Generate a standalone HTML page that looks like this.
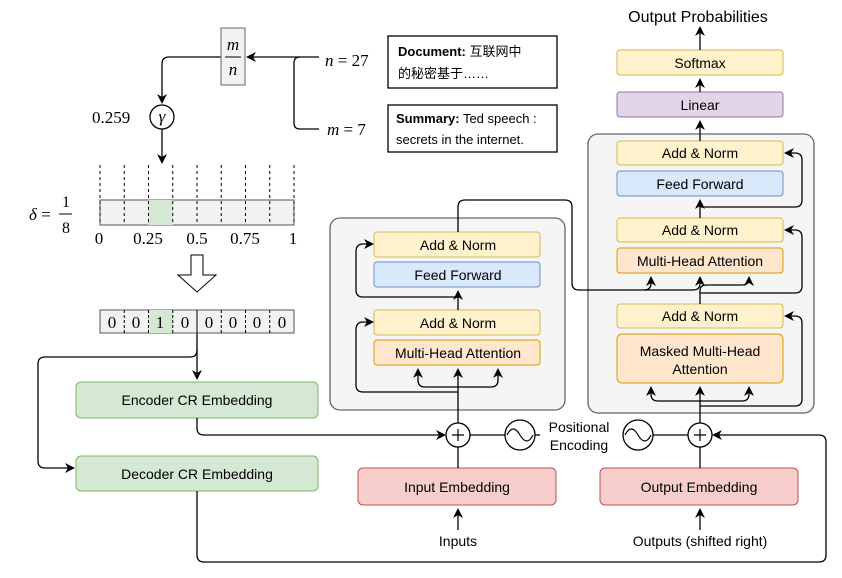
<!DOCTYPE html>
<html><head><meta charset="utf-8"><style>
html,body{margin:0;padding:0;background:#fff;}
svg{display:block;font-family:"Liberation Sans","Noto Sans CJK SC",sans-serif;}
.m{font-family:"Liberation Serif","DejaVu Serif",serif;}
</style></head><body>
<svg width="842" height="578" viewBox="0 0 842 578" xmlns="http://www.w3.org/2000/svg">
<defs>
<marker id="a" markerWidth="10" markerHeight="10" refX="8" refY="5" orient="auto" markerUnits="userSpaceOnUse">
<path d="M0,0 L10,5 L0,10 L3,5 Z" fill="#000"/></marker>
</defs>
<g fill="none" stroke="#000" stroke-width="1.3">
<rect x="330" y="218" width="235" height="192" rx="10" fill="#f5f5f5" stroke="#666"/>
<rect x="588" y="134" width="226" height="279" rx="10" fill="#f5f5f5" stroke="#666"/>
</g>
<g stroke-width="1">
<rect x="374" y="232" width="166" height="25" rx="3" fill="#fff2cc" stroke="#d6b656"/>
<rect x="374" y="262" width="166" height="25" rx="3" fill="#dae8fc" stroke="#6c8ebf"/>
<rect x="374" y="310" width="166" height="25" rx="3" fill="#fff2cc" stroke="#d6b656"/>
<rect x="374" y="340" width="166" height="25" rx="3" fill="#ffe6cc" stroke="#d79b00"/>
<rect x="617" y="141" width="166" height="24" rx="3" fill="#fff2cc" stroke="#d6b656"/>
<rect x="617" y="171" width="166" height="25" rx="3" fill="#dae8fc" stroke="#6c8ebf"/>
<rect x="617" y="218" width="166" height="24" rx="3" fill="#fff2cc" stroke="#d6b656"/>
<rect x="617" y="248" width="166" height="25" rx="3" fill="#ffe6cc" stroke="#d79b00"/>
<rect x="617" y="304" width="166" height="24" rx="3" fill="#fff2cc" stroke="#d6b656"/>
<rect x="617" y="334" width="166" height="49" rx="5" fill="#ffe6cc" stroke="#d79b00"/>
<rect x="617" y="92" width="166" height="25" rx="3" fill="#e1d5e7" stroke="#9673a6"/>
<rect x="617" y="50" width="166" height="25" rx="3" fill="#fff2cc" stroke="#d6b656"/>
<rect x="358" y="468" width="198" height="37" rx="5" fill="#f8cecc" stroke="#b85450"/>
<rect x="600" y="468" width="198" height="37" rx="5" fill="#f8cecc" stroke="#b85450"/>
<rect x="76" y="382" width="242" height="36" rx="5" fill="#d5e8d4" stroke="#82b366"/>
<rect x="76" y="456" width="242" height="35" rx="5" fill="#d5e8d4" stroke="#82b366"/>
</g>
<g fill="none" stroke="#000" stroke-width="1.3">
<path d="M458 468 V447"/>
<path d="M458 423 V370" marker-end="url(#a)"/>
<path d="M458 387 H425 Q418 387 418 380 V370" marker-end="url(#a)"/>
<path d="M458 387 H491 Q498 387 498 380 V370" marker-end="url(#a)"/>
<path d="M458 392 H363 Q356 392 356 385 V330 Q356 322 363 322 H372" marker-end="url(#a)"/>
<path d="M458 310 V292" marker-end="url(#a)"/>
<path d="M458 297 H363 Q356 297 356 290 V252 Q356 244 363 244 H372" marker-end="url(#a)"/>
<path d="M458 232 V207 Q458 200 465 200 H565 Q572 200 572 207 V283 Q572 290 579 290 H644 Q651 290 651 283 V278" marker-end="url(#a)"/>
<path d="M644 290 H693 Q700 290 700 283 V278" marker-end="url(#a)"/>
<path d="M700 468 V447"/>
<path d="M700 423 V388" marker-end="url(#a)"/>
<path d="M700 401 H658 Q651 401 651 394 V388" marker-end="url(#a)"/>
<path d="M700 401 H742 Q749 401 749 394 V388" marker-end="url(#a)"/>
<path d="M700 406 H795 Q802 406 802 399 V323 Q802 316 795 316 H786" marker-end="url(#a)"/>
<path d="M700 304 V290 Q700 285 707 285 H742 Q749 285 749 278" marker-end="url(#a)"/>
<path d="M700 293 H795 Q802 293 802 286 V237 Q802 230 795 230 H786" marker-end="url(#a)"/>
<path d="M700 218 V201" marker-end="url(#a)"/>
<path d="M700 207 H795 Q802 207 802 200 V160 Q802 153 795 153 H786" marker-end="url(#a)"/>
<path d="M700 141 V122" marker-end="url(#a)"/>
<path d="M700 92 V80" marker-end="url(#a)"/>
<path d="M700 50 V28" marker-end="url(#a)"/>
<path d="M458 530 V510" marker-end="url(#a)"/>
<path d="M700 530 V510" marker-end="url(#a)"/>
<path d="M470 435 H505"/><path d="M535 435 H540"/>
<path d="M653 435 H688"/>
<path d="M197 333 V378" marker-end="url(#a)"/>
<path d="M197 350 Q197 357 190 357 H45 Q38 357 38 364 V461 Q38 468 45 468 H73" marker-end="url(#a)"/>
<path d="M197 418 V428 Q197 435 204 435 H444" marker-end="url(#a)"/>
<path d="M197 491 V555 Q197 562 204 562 H819 Q826 562 826 555 V442 Q826 435 819 435 H714" marker-end="url(#a)"/>
<path d="M319 57 H300 Q294 57 294 63 V123 Q294 129 300 129 H319"/>
<path d="M300 57 H248" marker-end="url(#a)"/>
<path d="M221 57 H169 Q162 57 162 64 V102" marker-end="url(#a)"/>
<path d="M162 129 V162" marker-end="url(#a)"/>
<path d="M203 255 V275 H216 L197 292 L178 275 H191 V255 Z" fill="#fff" stroke-width="1"/>
</g>
<g fill="#fff" stroke="#000" stroke-width="1.3">
<circle cx="458" cy="435" r="12"/><circle cx="700" cy="435" r="12"/>
<circle cx="520" cy="435" r="15"/><circle cx="638" cy="435" r="15"/>
<circle cx="162" cy="117" r="12"/>
</g>
<g stroke="#000" stroke-width="1.2" fill="none">
<path d="M452 435 H464 M458 429 V441 M694 435 H706 M700 429 V441"/>
<path d="M507 435 Q513 423 520 435 Q527 447 533 435"/>
<path d="M625 435 Q631 423 638 435 Q645 447 651 435"/>
</g>
<rect x="100" y="200" width="194" height="25" fill="#f2f2f2" stroke="#555"/>
<rect x="148.5" y="200" width="24.25" height="25" fill="#d5e8d4"/>
<g stroke="#000" stroke-dasharray="3,3" stroke-width="1">
<path d="M100 165V225M124.25 165V225M148.5 165V225M172.75 165V225M197 165V225M221.25 165V225M245.5 165V225M269.75 165V225M294 165V225"/>
</g>
<rect x="100" y="310" width="194" height="23" fill="#f2f2f2" stroke="#555"/>
<rect x="148.5" y="310" width="24.25" height="23" fill="#d5e8d4"/>
<g stroke="#000" stroke-dasharray="3,2" stroke-width="1">
<path d="M124.25 310V333M148.5 310V333M172.75 310V333M221.25 310V333M245.5 310V333M269.75 310V333"/>
</g>
<path d="M197 310V333" stroke="#000"/>
<g class="m" font-size="17" text-anchor="middle">
<text x="112" y="328">0</text><text x="136" y="328">0</text><text x="160" y="328">1</text><text x="185" y="328">0</text><text x="209" y="328">0</text><text x="233" y="328">0</text><text x="257" y="328">0</text><text x="282" y="328">0</text>
<text x="99" y="244">0</text><text x="148" y="244">0.25</text><text x="197" y="244">0.5</text><text x="245" y="244">0.75</text><text x="293" y="244">1</text>
</g>
<rect x="221" y="28" width="24" height="57" fill="#f2f2f2" stroke="#666"/>
<path d="M225 57 H241" stroke="#000"/>
<g class="m" font-style="italic" font-size="17" text-anchor="middle">
<text x="233" y="50">m</text><text x="233" y="75">n</text>
<text x="162" y="122">γ</text>
</g>
<g class="m" font-size="17">
<text x="325" y="66"><tspan font-style="italic">n</tspan> = 27</text>
<text x="327" y="135"><tspan font-style="italic">m</tspan> = 7</text>
<text x="92" y="123">0.259</text>
<text x="29" y="220"><tspan font-style="italic">δ</tspan> =</text>
<text x="62" y="207" font-size="16">1</text>
<text x="62" y="233" font-size="16">8</text>
</g>
<path d="M59 214 H72" stroke="#000"/>
<rect x="388" y="36" width="169" height="52" fill="#fff" stroke="#000" stroke-width="1.3"/>
<rect x="388" y="105" width="169" height="47" fill="#fff" stroke="#000" stroke-width="1.3"/>
<g font-size="13">
<text x="398" y="56"><tspan font-weight="bold">Document:</tspan> 互联网中</text>
<text x="398" y="78">的秘密基于……</text>
<text x="396" y="123"><tspan font-weight="bold">Summary:</tspan> Ted speech :</text>
<text x="396" y="144">secrets in the internet.</text>
</g>
<g font-size="14" text-anchor="middle">
<text x="458" y="250">Add &amp; Norm</text>
<text x="458" y="280">Feed Forward</text>
<text x="458" y="328">Add &amp; Norm</text>
<text x="458" y="358">Multi-Head Attention</text>
<text x="700" y="158">Add &amp; Norm</text>
<text x="700" y="189">Feed Forward</text>
<text x="700" y="235">Add &amp; Norm</text>
<text x="700" y="266">Multi-Head Attention</text>
<text x="700" y="321">Add &amp; Norm</text>
<text x="700" y="356">Masked Multi-Head</text>
<text x="700" y="374">Attention</text>
<text x="700" y="110">Linear</text>
<text x="700" y="68">Softmax</text>
<text x="698" y="22" font-size="16">Output Probabilities</text>
<text x="457" y="492">Input Embedding</text>
<text x="699" y="492">Output Embedding</text>
<text x="197" y="405">Encoder CR Embedding</text>
<text x="197" y="479">Decoder CR Embedding</text>
<text x="458" y="546">Inputs</text>
<text x="700" y="546">Outputs (shifted right)</text>
<text x="579" y="432">Positional</text>
<text x="579" y="450">Encoding</text>
</g>
</svg>
</body></html>
